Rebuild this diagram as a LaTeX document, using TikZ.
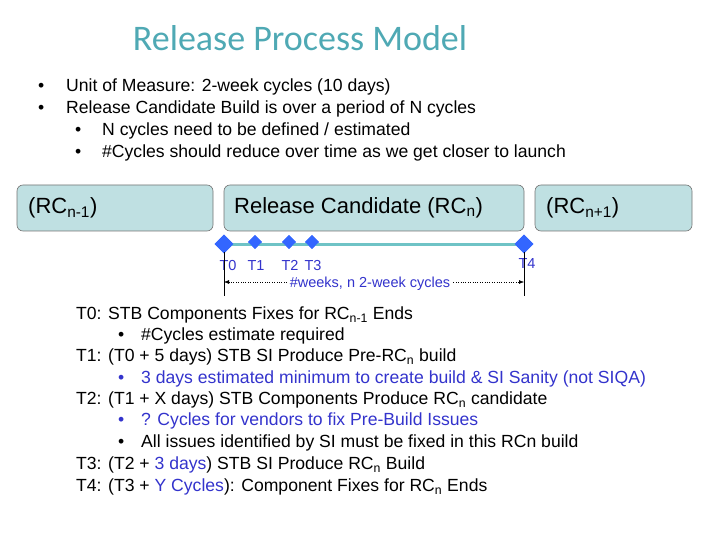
\documentclass[tikz,border=0pt]{standalone}
\usepackage{fontspec}
\setmainfont{Liberation Sans}
\newfontfamily\titlefont{Carlito}
\usetikzlibrary{shapes.geometric,arrows.meta}
\definecolor{boxfill}{HTML}{BFE0E2}
\definecolor{teal}{HTML}{4FA9B4}
\definecolor{linec}{HTML}{6FC3C6}
\definecolor{dia}{HTML}{3366FF}
\definecolor{blu}{HTML}{3333CC}
\begin{document}
\begin{tikzpicture}[x=1pt,y=-1pt,
  txt/.style={anchor=west,inner sep=0,font=\fontsize{17.6}{20}\selectfont},
  rc/.style={draw=black!55,fill=boxfill,rounded corners=6pt,line width=0.6pt},
  rct/.style={anchor=west,inner sep=0,font=\fontsize{22}{26}\selectfont},
  big/.style={diamond,fill=dia,minimum size=19pt,inner sep=0},
  small/.style={diamond,fill=dia,minimum size=14pt,inner sep=0},
  tl/.style={inner sep=0,anchor=base,text=blu,font=\fontsize{14.5}{16}\selectfont}]
\useasboundingbox (0,0) rectangle (720,540);
\node[inner sep=0,text=teal,font=\titlefont\fontsize{36}{40}\selectfont] (title) at (300,38) {Release Process Model};
\node[txt] (b1) at (38,87) {•}; \node[txt] (l1) at (66,87) {Unit of Measure: 2-week cycles (10 days)};
\node[txt] (b2) at (38,109) {•}; \node[txt] (l2) at (66,109) {Release Candidate Build is over a period of N cycles};
\node[txt] (b3) at (75,131) {•}; \node[txt] (l3) at (102,131) {N cycles need to be defined / estimated};
\node[txt] (b4) at (75,153) {•}; \node[txt] (l4) at (102,153) {\#Cycles should reduce over time as we get closer to launch};
\draw[rc] (17,185) rectangle (213,231);
\draw[rc] (224,185) rectangle (524,231);
\draw[rc] (535,185) rectangle (692,231);
\node[rct] (r1) at (28,208) {(RC\textsubscript{n-1})};
\node[rct] (r2) at (234,208) {Release Candidate (RC\textsubscript{n})};
\node[rct] (r3) at (546,208) {(RC\textsubscript{n+1})};
\node[big] (t0) at (224,244) {}; \node[small] (t1) at (255,242) {};
\node[small] (t2) at (289,242) {}; \node[small] (t3) at (312,242) {};
\node[big] (t4) at (524,244) {};
\draw[linec,line width=3pt] (t0.center) -- (t4.center);
\node[big] at (224,244) {}; \node[small] at (255,242) {};
\node[small] at (289,242) {}; \node[small] at (312,242) {};
\node[big] at (524,244) {};
\node[tl] (l0) at (228,270) {T0}; \node[tl] (lt1) at (256,270) {T1};
\node[tl] (lt2) at (290,270) {T2}; \node[tl] (lt3) at (313,270) {T3};
\node[tl] (lt4) at (527,268) {T4};
\coordinate (a0) at (224,252); \coordinate (a0b) at (224,296);
\coordinate (a4) at (524,252); \coordinate (a4b) at (524,296);
\draw[line width=0.4pt] (a0) -- (a0b); \draw[line width=0.4pt] (a4) -- (a4b);
\node[tl,fill=white,inner xsep=3pt] (wk) at (370,287) {\#weeks, n 2-week cycles};
\coordinate (d0) at (224,282); \coordinate (d4) at (524,282);
\draw[dotted,-{Latex[length=5pt]}] (wk.west|-d0) -- (d0);
\draw[dotted,-{Latex[length=5pt]}] (wk.east|-d4) -- (d4);
\node[txt] (x0) at (76,315) {T0: STB Components Fixes for RC\textsubscript{n-1} Ends};
\node[txt] (x1b) at (118,336) {•}; \node[txt] (x1) at (141,336) {\#Cycles estimate required};
\node[txt] (x2) at (76,357) {T1: (T0 + 5 days) STB SI Produce Pre-RC\textsubscript{n} build};
\node[txt,text=blu] (x3b) at (118,379) {•}; \node[txt,text=blu] (x3) at (141,379) {3 days estimated minimum to create build \& SI Sanity (not SIQA)};
\node[txt] (x4) at (76,400) {T2: (T1 + X days) STB Components Produce RC\textsubscript{n} candidate};
\node[txt,text=blu] (x5b) at (118,421) {•}; \node[txt,text=blu] (x5) at (141,421) {? Cycles for vendors to fix Pre-Build Issues};
\node[txt] (x6b) at (118,443) {•}; \node[txt] (x6) at (141,443) {All issues identified by SI must be fixed in this RCn build};
\node[txt] (x7) at (76,465) {T3: (T2 + \textcolor{blu}{3 days}) STB SI Produce RC\textsubscript{n} Build};
\node[txt] (x8) at (76,487) {T4: (T3 + \textcolor{blu}{Y Cycles}): Component Fixes for RC\textsubscript{n} Ends};
\end{tikzpicture}
\end{document}
